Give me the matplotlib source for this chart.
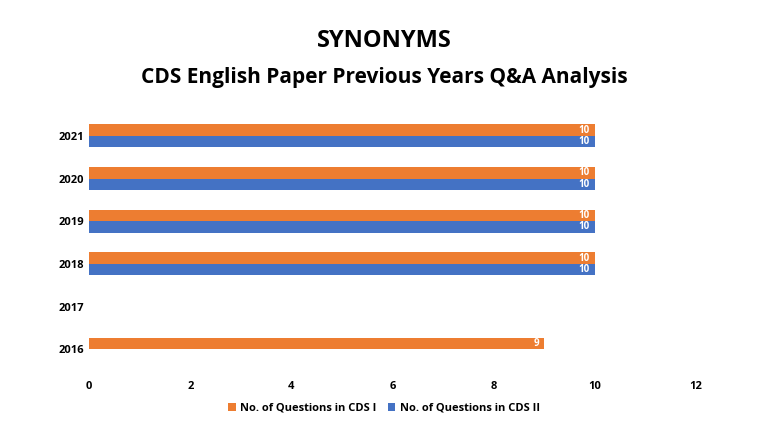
import matplotlib.pyplot as plt
import numpy as np

years = ["2016", "2017", "2018", "2019", "2020", "2021"]
cds1 = [9, 0, 10, 10, 10, 10]
cds2 = [0, 0, 10, 10, 10, 10]

plt.rcParams['font.family'] = ['Open Sans', 'DejaVu Sans']

fig = plt.figure(figsize=(7.68, 4.32), dpi=100)
ax = fig.add_axes([0.116, 0.13, 0.79, 0.61])

y = np.arange(len(years))
h = 0.27
b1 = ax.barh(y + h / 2, cds1, height=h, color="#ED7D31", label="No. of Questions in CDS I")
b2 = ax.barh(y - h / 2, cds2, height=h, color="#4472C4", label="No. of Questions in CDS II")

for bars, vals in ((b1, cds1), (b2, cds2)):
    for rect, v in zip(bars, vals):
        if v:
            ax.text(v - 0.1, rect.get_y() + rect.get_height() / 2, str(v),
                    ha="right", va="center", color="white", fontsize=7, fontweight="bold")

ax.set_xlim(0, 12)
ax.set_xticks(range(0, 13, 2))
ax.set_ylim(-0.62, 5.55)
ax.set_yticks(y)
ax.set_yticklabels(years)
ax.tick_params(length=0, labelsize=8)
for lbl in ax.get_xticklabels() + ax.get_yticklabels():
    lbl.set_fontweight("bold")
for s in ax.spines.values():
    s.set_visible(False)

fig.text(0.5, 0.905, "SYNONYMS", ha="center", va="center", fontsize=17, fontweight="bold")
fig.text(0.5, 0.82, "CDS English Paper Previous Years Q&A Analysis", ha="center",
         va="center", fontsize=15, fontweight="bold")

leg = fig.legend(handles=[b1, b2], loc="center", bbox_to_anchor=(0.5, 0.055), ncol=2,
                 frameon=False, fontsize=8, handlelength=0.7, handleheight=0.7,
                 columnspacing=1.0, handletextpad=0.4)
for t in leg.get_texts():
    t.set_fontweight("bold")

fig.savefig("out.png", dpi=100)
